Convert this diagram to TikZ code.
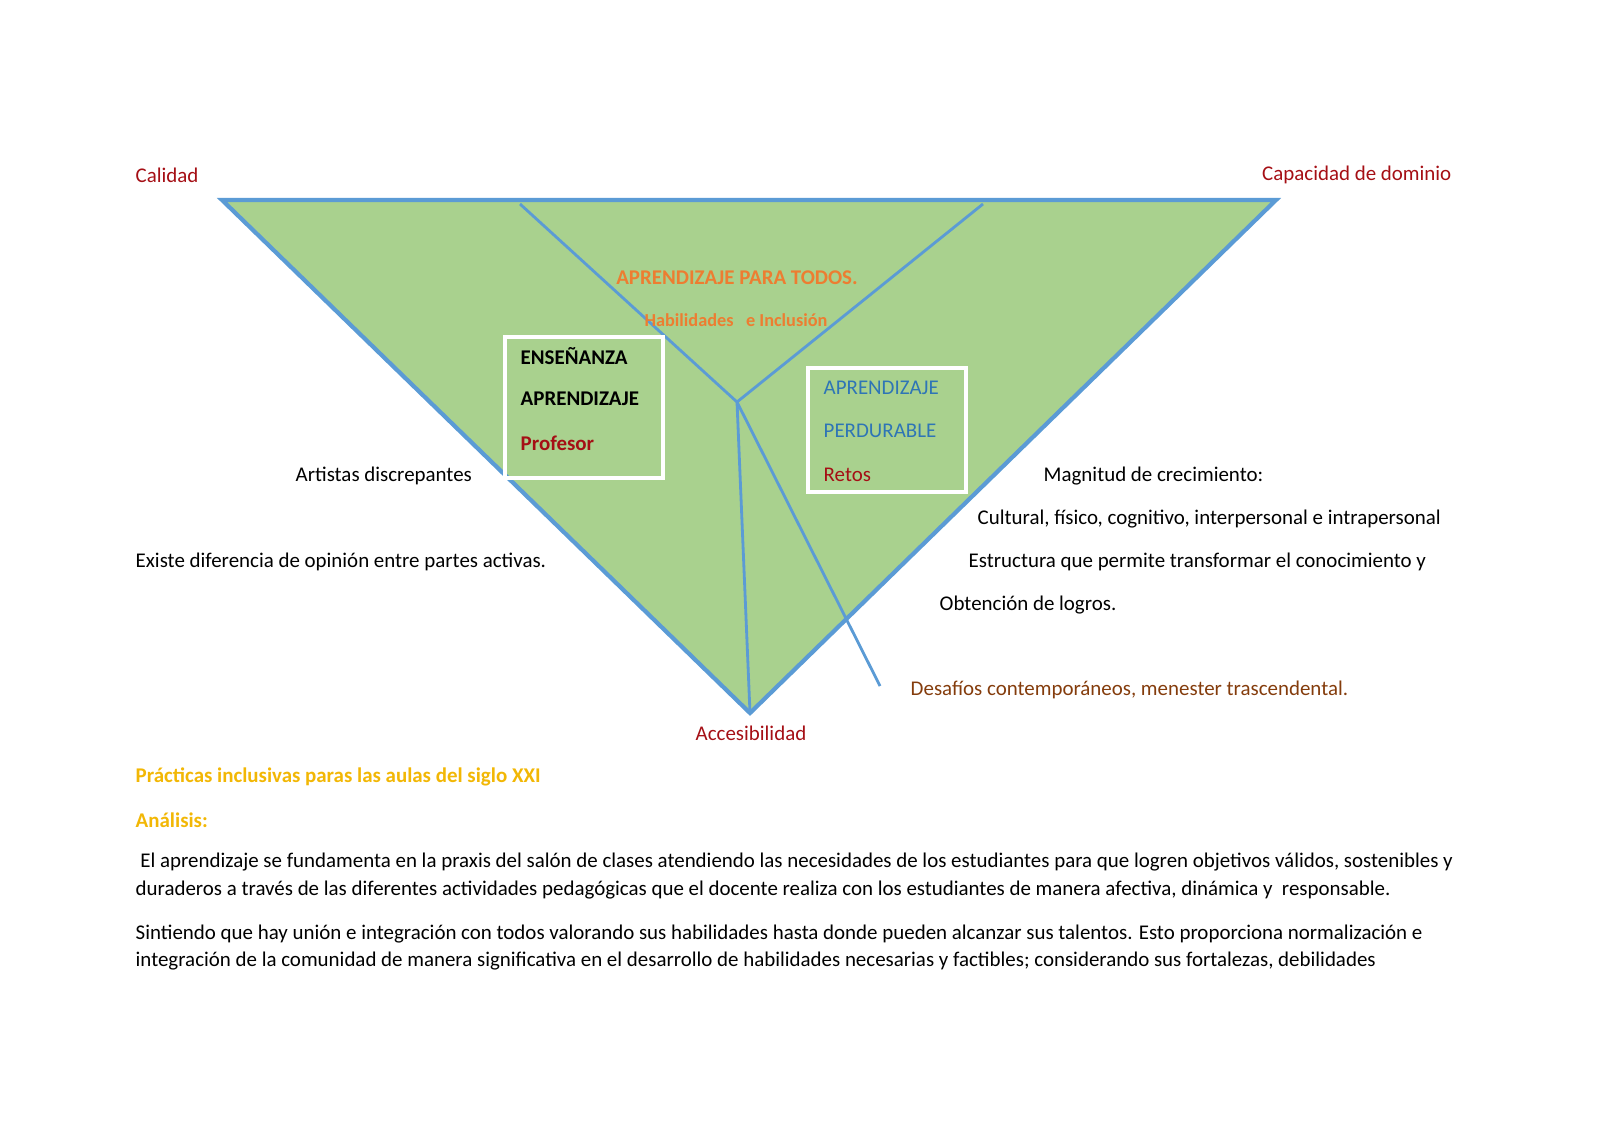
\documentclass[tikz,border=0pt]{standalone}
\usepackage{fontspec}
\setmainfont{Carlito}
\begin{document}
\begin{tikzpicture}[x=0.01cm,y=-0.01cm,
  every node/.style={inner sep=0pt,font=\fontsize{5.95}{7.5}\selectfont},
  lt/.style={anchor=west},
  ln/.style={draw=blue!50!cyan!70!black,line width=0.3pt}]
\definecolor{tri}{HTML}{A9D18E}
\definecolor{edge}{HTML}{5B9BD5}
\definecolor{dred}{HTML}{A50F15}
\definecolor{org}{HTML}{ED7D31}
\definecolor{blu}{HTML}{2E75B6}
\definecolor{brn}{HTML}{843C0C}
\definecolor{gold}{HTML}{F2B705}
\useasboundingbox (0,0) rectangle (1600,1131);
\coordinate (tl) at (222,200); \coordinate (tr) at (1276,200); \coordinate (bt) at (750,713);
\coordinate (a1) at (520,204); \coordinate (a2) at (983,204); \coordinate (j) at (737,402);
\coordinate (d) at (880,686);
\fill[tri] (tl)--(tr)--(bt)--cycle;
\draw[edge,line width=1.2pt] (tl)--(tr)--(bt)--cycle;
\draw[edge,line width=0.8pt] (a1)--(j) (a2)--(j) (j)--(bt) (j)--(d);
\draw[white,line width=1pt] (505,337) rectangle (663,478);
\draw[white,line width=1pt] (808,368) rectangle (966,492);
\node[lt,dred] (c1) at (135,175) {Calidad};
\node[anchor=east,dred] (c2) at (1452,175) {Capacidad de dominio};
\node[org,font=\fontsize{5.95}{7.5}\selectfont\bfseries] (t1) at (737,278) {APRENDIZAJE PARA TODOS.};
\node[org,font=\fontsize{5.2}{7}\selectfont\bfseries] (t2) at (736,320) {Habilidades\ \ \ e Inclusión};
\node[lt,font=\fontsize{5.95}{7.5}\selectfont\bfseries] (b1) at (520,356) {ENSEÑANZA};
\node[lt,font=\fontsize{5.95}{7.5}\selectfont\bfseries] (b2) at (520,399) {APRENDIZAJE};
\node[lt,dred,font=\fontsize{5.95}{7.5}\selectfont\bfseries] (b3) at (520,443) {Profesor};
\node[lt,blu] (r1) at (823,388) {APRENDIZAJE};
\node[lt,blu] (r2) at (823,431) {PERDURABLE};
\node[lt,dred] (r3) at (823,475) {Retos};
\node[lt] (l1) at (295,476) {Artistas discrepantes};
\node[lt] (l2) at (135,562) {Existe diferencia de opinión entre partes activas.};
\node[lt] (m1) at (1043,476) {Magnitud de crecimiento:};
\node[lt] (m2) at (977,519) {Cultural, físico, cognitivo, interpersonal e intrapersonal};
\node[lt] (m3) at (968,562) {Estructura que permite transformar el conocimiento y};
\node[lt] (m4) at (939,605) {Obtención de logros.};
\node[lt,brn] (ds) at (910,690) {Desafíos contemporáneos, menester trascendental.};
\node[dred] (ac) at (751,733) {Accesibilidad};
\node[lt,gold,font=\fontsize{5.95}{7.5}\selectfont\bfseries] (p1) at (135,777) {Prácticas inclusivas paras las aulas del siglo XXI};
\node[lt,gold,font=\fontsize{5.95}{7.5}\selectfont\bfseries] (p2) at (135,820) {Análisis:};
\node[lt] (q1) at (135,862) {\ El aprendizaje se fundamenta en la praxis del salón de clases atendiendo las necesidades de los estudiantes para que logren objetivos válidos, sostenibles y};
\node[lt] (q2) at (135,890) {duraderos a través de las diferentes actividades pedagógicas que el docente realiza con los estudiantes de manera afectiva, dinámica y\ \ responsable.};
\node[lt] (q3) at (135,934) {Sintiendo que hay unión e integración con todos valorando sus habilidades hasta donde pueden alcanzar sus talentos. Esto proporciona normalización e};
\node[lt] (q4) at (135,961) {integración de la comunidad de manera significativa en el desarrollo de habilidades necesarias y factibles; considerando sus fortalezas, debilidades};
\end{tikzpicture}
\end{document}
